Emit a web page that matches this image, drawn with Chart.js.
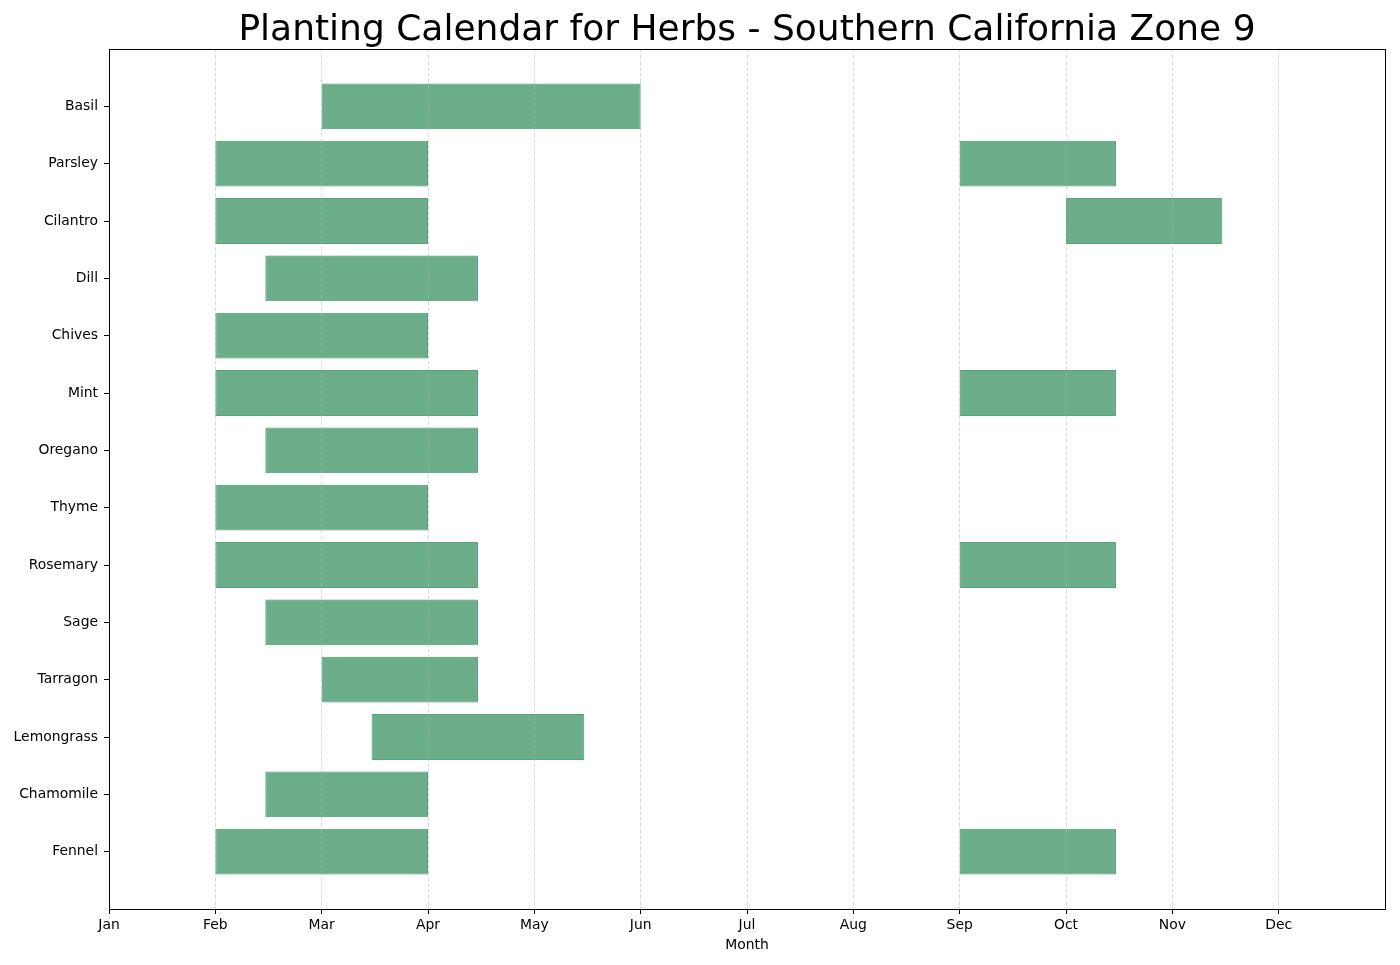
<!DOCTYPE html>
<html>
<head>
<meta charset="utf-8">
<script src="https://cdn.jsdelivr.net/npm/chart.js@4"></script>
<style>
  html, body { margin: 0; padding: 0; background: #fff; }
  #wrap { width: 1400px; height: 965px; position: relative; }
</style>
</head>
<body>
<div id="wrap"><canvas id="c"></canvas></div>
<script>
const titleText = 'Planting Calendar for Herbs - Southern California Zone 9';
const monthLabels = ['Jan','Feb','Mar','Apr','May','Jun','Jul','Aug','Sep','Oct','Nov','Dec'];
const herbs = ['Basil','Parsley','Cilantro','Dill','Chives','Mint','Oregano','Thyme','Rosemary','Sage','Tarragon','Lemongrass','Chamomile','Fennel'];
// first planting window (months from Jan = 0)
const firstStart = [2, 1, 1, 1.47, 1, 1, 1.47, 1, 1, 1.47, 2, 2.47, 1.47, 1];
const firstEnd   = [5, 3, 3, 3.47, 3, 3.47, 3.47, 3, 3.47, 3.47, 3.47, 4.47, 3, 3];
// second (fall) planting window, null when none
const secondStart = [null, 8, 9, null, null, 8, null, null, 8, null, null, null, null, 8];
const secondEnd   = [null, 9.47, 10.47, null, null, 9.47, null, null, 9.47, null, null, null, null, 9.47];

const points = [];
herbs.forEach((h, i) => {
  points.push({ y: i, x: [firstStart[i], firstEnd[i]] });
  if (secondStart[i] !== null) points.push({ y: i, x: [secondStart[i], secondEnd[i]] });
});

const FONT = "'DejaVu Sans', sans-serif";

const frame = {
  id: 'frame',
  afterDraw(chart) {
    const a = chart.chartArea, ctx = chart.ctx;
    ctx.save();
    ctx.strokeStyle = '#000';
    ctx.lineWidth = 1;
    ctx.setLineDash([]);
    ctx.strokeRect(Math.round(a.left) + 0.5, Math.round(a.top) + 0.5,
                   Math.round(a.right - a.left), Math.round(a.bottom - a.top));
    ctx.restore();
  }
};

new Chart(document.getElementById('c'), {
  type: 'bar',
  data: {
    datasets: [{
      data: points,
      backgroundColor: 'rgba(46,139,87,0.7)',
      borderColor: 'rgba(46,139,87,0.8)',
      borderWidth: 1,
      borderSkipped: false,
      categoryPercentage: 1,
      barPercentage: 0.8
    }]
  },
  options: {
    indexAxis: 'y',
    responsive: true,
    maintainAspectRatio: false,
    animation: false,
    layout: { padding: { left: 0, right: 15, top: 0, bottom: 0 } },
    plugins: {
      legend: { display: false },
      tooltip: { enabled: false },
      title: {
        display: true,
        text: titleText,
        fullSize: false,
        color: '#000',
        font: { family: FONT, size: 36, weight: 'normal', lineHeight: 1.0 },
        padding: { top: 13, bottom: 0 }
      }
    },
    scales: {
      x: {
        type: 'linear',
        min: 0, max: 12,
        offset: false,
        afterBuildTicks: (s) => { s.ticks = monthLabels.map((m, i) => ({ value: i })); },
        afterFit: (s) => { s.height = 56; },
        ticks: {
          color: '#000',
          font: { family: FONT, size: 13.9 },
          padding: 3,
          maxRotation: 0,
          autoSkip: false,
          callback: (v) => monthLabels[v]
        },
        grid: {
          z: 1,
          offset: false,
          color: 'rgba(176,176,176,0.45)',
          lineWidth: 1,
          tickLength: 5,
          tickColor: '#000',
          tickWidth: 1,
          tickBorderDash: [],
          drawTicks: true
        },
        border: { display: true, z: 2, color: '#000', width: 1, dash: [4, 2] },
        title: {
          display: true,
          text: 'Month',
          color: '#000',
          font: { family: FONT, size: 13.9 },
          padding: { top: 2, bottom: 11 }
        }
      },
      y: {
        type: 'linear',
        reverse: true,
        offset: false,
        min: -1, max: 14,
        afterBuildTicks: (s) => { s.ticks = herbs.map((h, i) => ({ value: i })); },
        afterFit: (s) => { s.width = 109; },
        ticks: {
          color: '#000',
          font: { family: FONT, size: 13.9 },
          padding: 6,
          autoSkip: false,
          callback: (v) => herbs[v]
        },
        grid: {
          offset: false,
          drawOnChartArea: false,
          tickLength: 5,
          tickColor: '#000',
          tickWidth: 1
        },
        border: { display: true, color: '#000', width: 1 }
      }
    }
  },
  plugins: [frame]
});
</script>
</body>
</html>
